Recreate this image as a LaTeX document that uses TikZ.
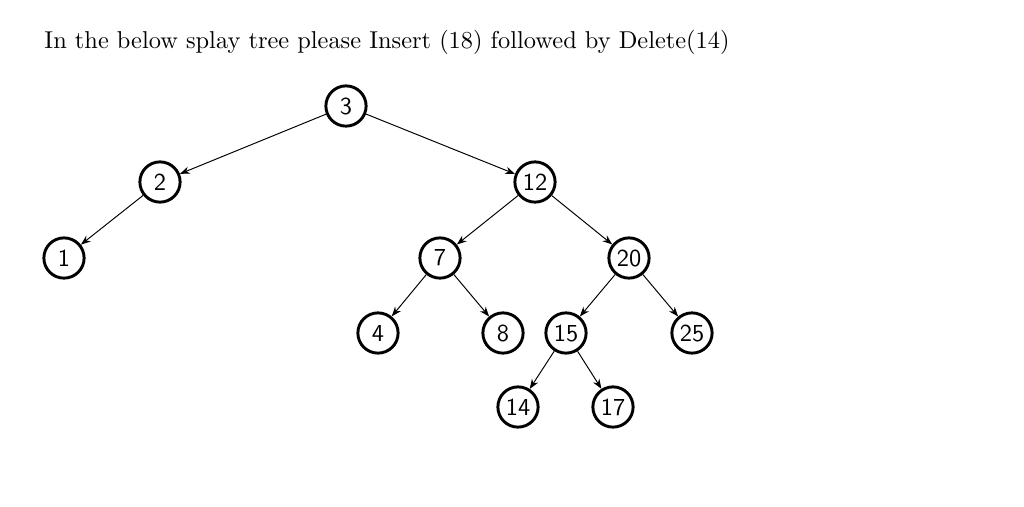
\documentclass[tikz,border=0pt]{standalone}
\usetikzlibrary{arrows.meta}
\begin{document}
\begin{tikzpicture}[x=0.41pt,y=-0.41pt,
  tn/.style={circle,draw,line width=1.2pt,minimum size=16.5pt,inner sep=0pt,font=\sffamily},
  ed/.style={-{Stealth[length=4pt,width=3pt]},line width=0.4pt}]
\useasboundingbox (0,0) rectangle (1024,506);
\node[anchor=west,inner sep=0pt] (t) at (44,42) {In the below splay tree please Insert (18) followed by Delete(14)};
\node[tn] (n3) at (346,106) {3};
\node[tn] (n2) at (160,182) {2};
\node[tn] (n12) at (535,182) {12};
\node[tn] (n1) at (64,258) {1};
\node[tn] (n7) at (440,258) {7};
\node[tn] (n20) at (629,258) {20};
\node[tn] (n4) at (378,333) {4};
\node[tn] (n8) at (503,333) {8};
\node[tn] (n15) at (566,333) {15};
\node[tn] (n25) at (692,333) {25};
\node[tn] (n14) at (518,407) {14};
\node[tn] (n17) at (613,407) {17};
\draw[ed] (n3)--(n2); \draw[ed] (n3)--(n12);
\draw[ed] (n2)--(n1);
\draw[ed] (n12)--(n7); \draw[ed] (n12)--(n20);
\draw[ed] (n7)--(n4); \draw[ed] (n7)--(n8);
\draw[ed] (n20)--(n15); \draw[ed] (n20)--(n25);
\draw[ed] (n15)--(n14); \draw[ed] (n15)--(n17);
\end{tikzpicture}
\end{document}
